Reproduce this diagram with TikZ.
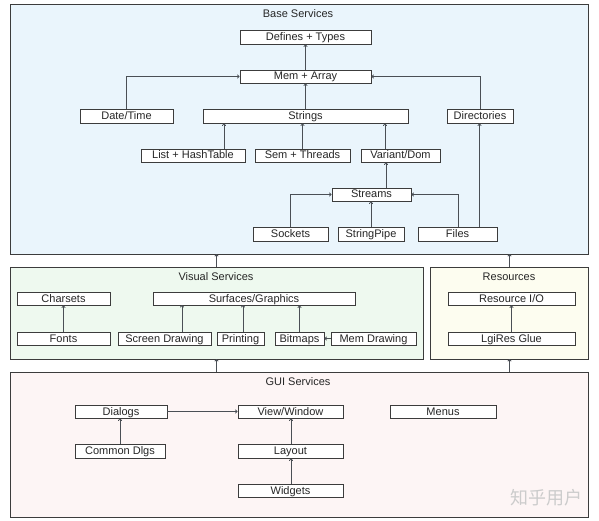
\documentclass[tikz,border=0pt]{standalone}
\usepackage{fontspec}
\setmainfont{Liberation Sans}
\newfontfamily\cjkfont{Noto Sans CJK SC}
\usetikzlibrary{arrows.meta}
\definecolor{edgegray}{HTML}{3C3C3C}
\definecolor{linegray}{HTML}{4A4F55}
\definecolor{basefill}{HTML}{EAF5FC}
\definecolor{visfill}{HTML}{EEF9EF}
\definecolor{resfill}{HTML}{FDFDF0}
\definecolor{guifill}{HTML}{FDF5F5}
\tikzset{
  x=1pt,y=-1pt,
  group/.style={draw=edgegray,line width=0.9pt},
  grouptitle/.style={font=\fontsize{11}{13}\selectfont,text=black!85,inner sep=0pt},
  modbox/.style={draw=edgegray,fill=white,line width=0.9pt,font=\fontsize{11}{13}\selectfont,text=black!85,inner sep=0pt,text height=8.5pt,text depth=1.5pt},
  conn/.style={draw=linegray,line width=0.8pt,-{To[length=2.5pt,width=4pt]}},
}
\newcommand{\modnode}[6]{\node[modbox,minimum width=#4-#2,minimum height=#5-#3] (#1) at ({(#2+#4)/2},{(#3+#5)/2}) {#6};}
\begin{document}
\begin{tikzpicture}
\useasboundingbox (0,0) rectangle (599,521);
\fill[white] (0,0) rectangle (599,521);
% group boxes
\draw[group,fill=basefill] (10,4) rectangle (588,254);
\draw[group,fill=visfill] (10,267) rectangle (423,359);
\draw[group,fill=resfill] (430,267) rectangle (588,359);
\draw[group,fill=guifill] (10,372) rectangle (588,517);
\coordinate (baseA) at (216.5,254);
\coordinate (baseB) at (509.5,254);
\coordinate (visT) at (216.5,267);
\coordinate (resT) at (509.5,267);
\coordinate (visB) at (216.5,359);
\coordinate (resB) at (509.5,359);
\coordinate (guiA) at (216.5,372);
\coordinate (guiB) at (509.5,372);
\node[grouptitle] (tbase) at (298,14) {Base Services};
\node[grouptitle] (tvis) at (216,277) {Visual Services};
\node[grouptitle] (tres) at (509,277) {Resources};
\node[grouptitle] (tgui) at (298,382) {GUI Services};
% Base services
\modnode{defines}{240}{30}{371}{44}{Defines + Types}
\modnode{mem}{240}{70}{371}{83}{Mem + Array}
\modnode{date}{80}{109}{173}{123}{Date/Time}
\modnode{strings}{203}{109}{408}{123}{Strings}
\modnode{dirs}{447}{109}{513}{123}{Directories}
\modnode{list}{141}{149}{245}{162}{List + HashTable}
\modnode{sem}{255}{149}{350}{162}{Sem + Threads}
\modnode{variant}{361}{149}{440}{162}{Variant/Dom}
\modnode{streams}{332}{188}{411}{201}{Streams}
\modnode{sockets}{253}{227}{328}{241}{Sockets}
\modnode{pipe}{338}{227}{404}{241}{StringPipe}
\modnode{files}{418}{227}{497}{241}{Files}
% Visual services
\modnode{charsets}{17}{292}{110}{305}{Charsets}
\modnode{surfaces}{153}{292}{355}{305}{Surfaces/Graphics}
\modnode{fonts}{17}{332}{110}{345}{Fonts}
\modnode{screen}{118}{332}{211}{345}{Screen Drawing}
\modnode{printing}{217}{332}{264}{345}{Printing}
\modnode{bitmaps}{275}{332}{324}{345}{Bitmaps}
\modnode{memdraw}{331}{332}{416}{345}{Mem Drawing}
% Resources
\modnode{resio}{448}{292}{575}{305}{Resource I/O}
\modnode{glue}{448}{332}{575}{345}{LgiRes Glue}
% GUI services
\modnode{dialogs}{75}{405}{167}{418}{Dialogs}
\modnode{view}{238}{405}{343}{418}{View/Window}
\modnode{menus}{390}{405}{496}{418}{Menus}
\modnode{common}{75}{444}{165}{458}{Common Dlgs}
\modnode{layout}{238}{444}{343}{458}{Layout}
\modnode{widgets}{238}{484}{343}{497}{Widgets}
% watermark
\node[font=\cjkfont\fontsize{18}{20}\selectfont,text=black!20,inner sep=0pt] (wm) at (546,498) {知乎用户};
% connectors base
\draw[conn] (mem.north) -- (defines.south);
\draw[conn] (date.north) |- (mem.west);
\draw[conn] (strings.north -| mem.north) -- (mem.south);
\draw[conn] (dirs.north) |- (mem.east);
\draw[conn] ([xshift=31pt]list.north) -- ([xshift=31pt]list.north |- strings.south);
\draw[conn] (sem.north) -- (sem.north |- strings.south);
\draw[conn] ([xshift=-15.5pt]variant.north) -- ([xshift=-15.5pt]variant.north |- strings.south);
\draw[conn] ([xshift=14.5pt]streams.north) -- ([xshift=14.5pt]streams.north |- variant.south);
\draw[conn] (sockets.north) |- (streams.west);
\draw[conn] (pipe.north) -- (pipe.north |- streams.south);
\draw[conn] ([xshift=0.5pt]files.north) |- (streams.east);
\draw[conn] ([xshift=22pt]files.north) -- ([xshift=22pt]files.north |- dirs.south);
% inter-group
\draw[conn] (visT) -- (baseA);
\draw[conn] (resT) -- (baseB);
\draw[conn] (guiA) -- (visB);
\draw[conn] (guiB) -- (resB);
% visual
\draw[conn] (fonts.north) -- (charsets.south);
\draw[conn] (screen.north -| 182,0) -- (182,305);
\draw[conn] (243,332) -- (243,305);
\draw[conn] (bitmaps.north) -- (bitmaps.north |- surfaces.south);
\draw[conn] (memdraw.west) -- (bitmaps.east);
\draw[conn] (glue.north) -- (resio.south);
% gui
\draw[conn] (dialogs.east) -- (view.west);
\draw[conn] (common.north) -- (common.north |- dialogs.south);
\draw[conn] ([xshift=0.5pt]layout.north) -- ([xshift=0.5pt]view.south);
\draw[conn] ([xshift=0.5pt]widgets.north) -- ([xshift=0.5pt]layout.south);
\end{tikzpicture}
\end{document}
